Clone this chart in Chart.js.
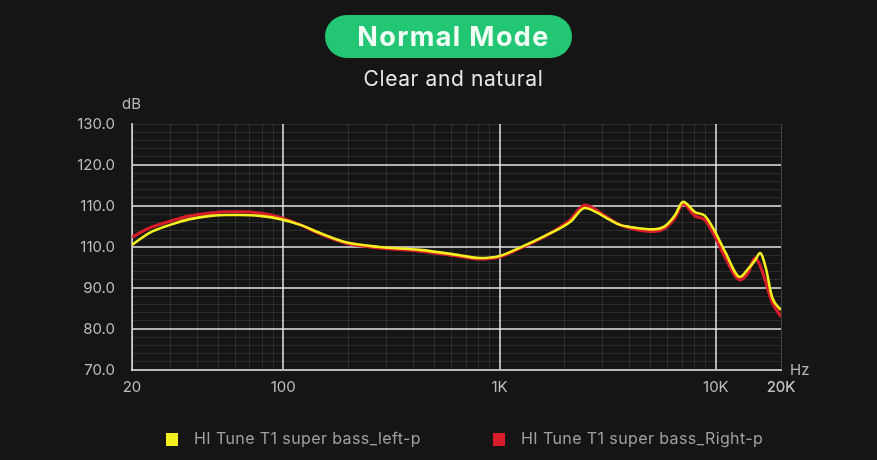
<!DOCTYPE html>
<html>
<head>
  <title>Normal Mode frequency response</title>
  <meta name="viewport" content="width=device-width, initial-scale=1">
  <style>
    body { margin: 0; background: #151515; font-family: Inter, "Noto Sans", sans-serif; }
    #wrap { position: relative; width: 877px; height: 460px; overflow: hidden; }
    #chart { position: absolute; left: 0; top: 0; }
    .pill { position: absolute; left: 325px; top: 15px; width: 237px; padding-left: 10px; height: 43px; border-radius: 22px;
            background: #22c673; color: #f2fff7; font-weight: 700; font-size: 27px; letter-spacing: 1.4px; line-height: 43px; text-align: center; }
    .sub { position: absolute; left: 30px; width: 847px; top: 66px; text-align: center; color: #e6e6e6; font-size: 21px; letter-spacing: 0.6px; }
    .unit { position: absolute; color: #b5b5b5; font-size: 15px; }
    .legend { position: absolute; top: 428px; color: #a0a0a0; font-size: 16px; letter-spacing: 0.4px; }
    .legend i { display: inline-block; width: 12px; height: 13px; vertical-align: -2px; margin-right: 16px; }
  </style>
  <script src="https://cdn.jsdelivr.net/npm/chart.js"></script>
</head>
<body>
<div id="wrap">
  <canvas id="chart" width="877" height="460"></canvas>
  <div class="pill">Normal Mode</div>
  <div class="sub">Clear and natural</div>
  <div class="unit" style="left:122px;top:94px">dB</div>
  <div class="unit" style="left:790px;top:360px">Hz</div>
  <div class="legend" style="left:166px"><i style="background:#f4ef1f"></i>HI Tune T1 super bass_left-p</div>
  <div class="legend" style="left:493px"><i style="background:#d81d2a"></i>HI Tune T1 super bass_Right-p</div>
</div>
<script>
const seriesNames = ['HI Tune T1 super bass_left-p', 'HI Tune T1 super bass_Right-p'];
const freqs = [20, 24, 30, 37, 46, 55, 63, 78, 97, 120, 148, 193, 278, 428, 654, 809, 1000, 1236, 1620, 2120, 2480,
  2800, 3240, 3606, 4010, 5070, 5820, 6480, 7050, 8010, 8900, 9920, 11040, 12950, 14000, 15200, 16000, 17000, 18180, 20000];
const leftDb = [100.5, 103.4, 105.4, 106.8, 107.6, 107.8, 107.8, 107.6, 106.8, 105.4, 103.4, 101.2, 100.0, 99.3, 98.0, 97.3, 97.8, 99.8, 102.7, 106.1, 109.5,
  108.5, 106.6, 105.4, 104.9, 104.3, 105.1, 107.8, 111.0, 108.5, 107.6, 103.7, 98.8, 92.7, 94.5, 96.8, 98.5, 95.0, 87.8, 84.6];
const rightDb = [102.4, 104.6, 106.3, 107.6, 108.3, 108.6, 108.6, 108.3, 107.2, 105.4, 103.2, 101.0, 99.8, 99.0, 97.7, 97.1, 97.6, 99.6, 102.6, 106.6, 110.2,
  109.0, 106.8, 105.4, 104.6, 103.8, 104.6, 107.2, 110.5, 107.6, 106.6, 102.5, 97.5, 92.0, 93.5, 97.3, 95.5, 91.5, 86.6, 83.0];

const yTickValues = [130, 120, 110, 100, 90, 80, 70];
const yTickLabels = ['130.0', '120.0', '110.0', '110.0', '90.0', '80.0', '70.0'];
const xTickValues = [20, 100, 1000, 10000, 20000];
const xTickLabels = ['20', '100', '1K', '10K', '20K'];
const xMajor = [100, 1000, 10000];

const xGridTicks = [];
[10, 100, 1000, 10000].forEach(d => { for (let m = 1; m < 10; m++) { const v = d * m; if (v >= 20 && v <= 20000) xGridTicks.push(v); } });
xGridTicks.push(20000);

const pts = arr => arr.map((v, i) => ({x: freqs[i], y: v}));

new Chart(document.getElementById('chart'), {
  type: 'line',
  data: {
    datasets: [
      {label: seriesNames[0], data: pts(leftDb), borderColor: '#f4ef1f', borderWidth: 2.6},
      {label: seriesNames[1], data: pts(rightDb), borderColor: '#d81d2a', borderWidth: 3.2}
    ]
  },
  options: {
    responsive: false,
    animation: false,
    parsing: false,
    layout: {padding: {top: 124, right: 96, bottom: 60, left: 0}},
    elements: {point: {radius: 0}, line: {cubicInterpolationMode: 'monotone'}},
    plugins: {legend: {display: false}, tooltip: {enabled: false}},
    scales: {
      x: {
        type: 'logarithmic', min: 20, max: 20000,
        afterBuildTicks: s => { s.ticks = xGridTicks.map(v => ({value: v})); },
        afterFit: s => { s.height = 30; },
        ticks: {
          autoSkip: false, maxRotation: 0, color: '#bdbdbd', font: {size: 15, family: 'Inter'}, padding: 8,
          callback: v => { const i = xTickValues.indexOf(v); return i < 0 ? '' : xTickLabels[i]; }
        },
        grid: {
          drawTicks: false,
          color: c => xMajor.includes(c.tick.value) ? 'rgba(230,230,230,0.75)' : (c.tick.value === 20 ? 'rgba(230,230,230,0.7)' : 'rgba(255,255,255,0.1)'),
          lineWidth: c => xMajor.includes(c.tick.value) ? 2 : 1
        },
        border: {color: 'rgba(225,225,225,0.8)', width: 2}
      },
      y: {
        min: 70, max: 130,
        afterBuildTicks: s => { const t = []; for (let v = 130; v >= 70; v -= 2) t.push({value: v}); s.ticks = t; },
        afterFit: s => { s.width = 132; },
        ticks: {
          autoSkip: false, color: '#bdbdbd', font: {size: 15, family: 'Inter'}, padding: 17,
          callback: v => { const i = yTickValues.indexOf(v); return i < 0 ? '' : yTickLabels[i]; }
        },
        grid: {
          drawTicks: false,
          color: c => (c.tick.value % 10 === 0 && c.tick.value > 70 && c.tick.value < 130) ? 'rgba(230,230,230,0.75)' : 'rgba(255,255,255,0.1)',
          lineWidth: c => (c.tick.value % 10 === 0 && c.tick.value > 70 && c.tick.value < 130) ? 2 : 1
        },
        border: {color: 'rgba(225,225,225,0.7)', width: 2}
      }
    }
  }
});
</script>
</body>
</html>
